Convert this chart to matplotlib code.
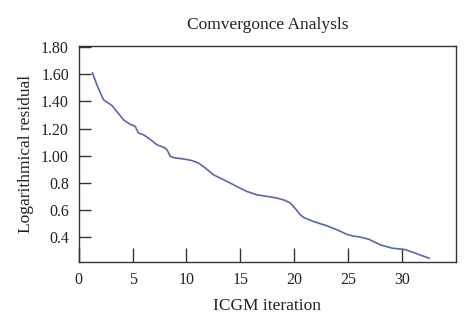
import matplotlib
matplotlib.use("Agg")
import matplotlib.pyplot as plt

iterations = [1.28, 1.7, 2.3, 3.08, 3.6, 4.16, 4.7, 5.25, 5.4, 5.55, 6.0, 6.48, 7.26, 8.03, 8.19,
              8.35, 8.5, 8.9, 9.73, 10.5, 11.12, 11.75, 12.5, 13.0, 13.45, 14.37, 15.0, 15.6,
              16.55, 17.5, 18.4, 19.1, 19.64, 20.1, 20.5, 20.87, 21.8, 23.05, 23.97, 24.9,
              25.5, 26.14, 26.9, 28.0, 29.08, 30.3, 31.09, 32.5]
residual = [1.61, 1.52, 1.413, 1.37, 1.32, 1.265, 1.235, 1.216, 1.19, 1.168, 1.155, 1.13, 1.081,
            1.057, 1.044, 1.02, 0.995, 0.985, 0.976, 0.965, 0.946, 0.909, 0.86, 0.84, 0.823,
            0.786, 0.76, 0.737, 0.712, 0.70, 0.688, 0.672, 0.651, 0.61, 0.57, 0.545, 0.515,
            0.483, 0.454, 0.42, 0.408, 0.40, 0.385, 0.343, 0.319, 0.308, 0.286, 0.245]
xticks = [0, 5, 10, 15, 20, 25, 30]
yticks = [0.4, 0.6, 0.8, 1.0, 1.2, 1.4, 1.6, 1.8]
ytick_labels = ["0.4", "0.6", "0.8", "1.00", "1.20", "1.40", "1.60", "1.80"]

plt.rcParams['font.family'] = ['Liberation Serif', 'DejaVu Serif']
fig = plt.figure(figsize=(4.74, 3.25), dpi=100)
ax = fig.add_axes([0.166, 0.193, 0.796, 0.666])
ax.plot(iterations, residual, color='#5a67ad', lw=1.2)
ax.set_xlim(0, 35)
ax.set_ylim(0.215, 1.81)
ax.set_xticks(xticks)
ax.set_xticklabels([str(t) for t in xticks])
ax.set_yticks(yticks)
ax.set_yticklabels(ytick_labels)
ax.tick_params(axis='x', direction='in', length=10, width=1.0, color='#333333', pad=7, labelsize=11.5, labelcolor='#222222')
ax.tick_params(axis='y', direction='in', length=8.5, width=1.0, color='#333333', pad=7, labelsize=11.5, labelcolor='#222222')
for s in ax.spines.values():
    s.set_color('#333333')
    s.set_linewidth(1.0)
ax.set_xlabel('ICGM iteration', fontsize=12.5, color='#222222', labelpad=7)
ax.set_ylabel('Logarithmical residual', fontsize=12.5, color='#222222', labelpad=5)
ax.set_title('Comvergonce Analysls', fontsize=12.5, color='#222222', pad=12)
fig.savefig('out.png', dpi=100)
